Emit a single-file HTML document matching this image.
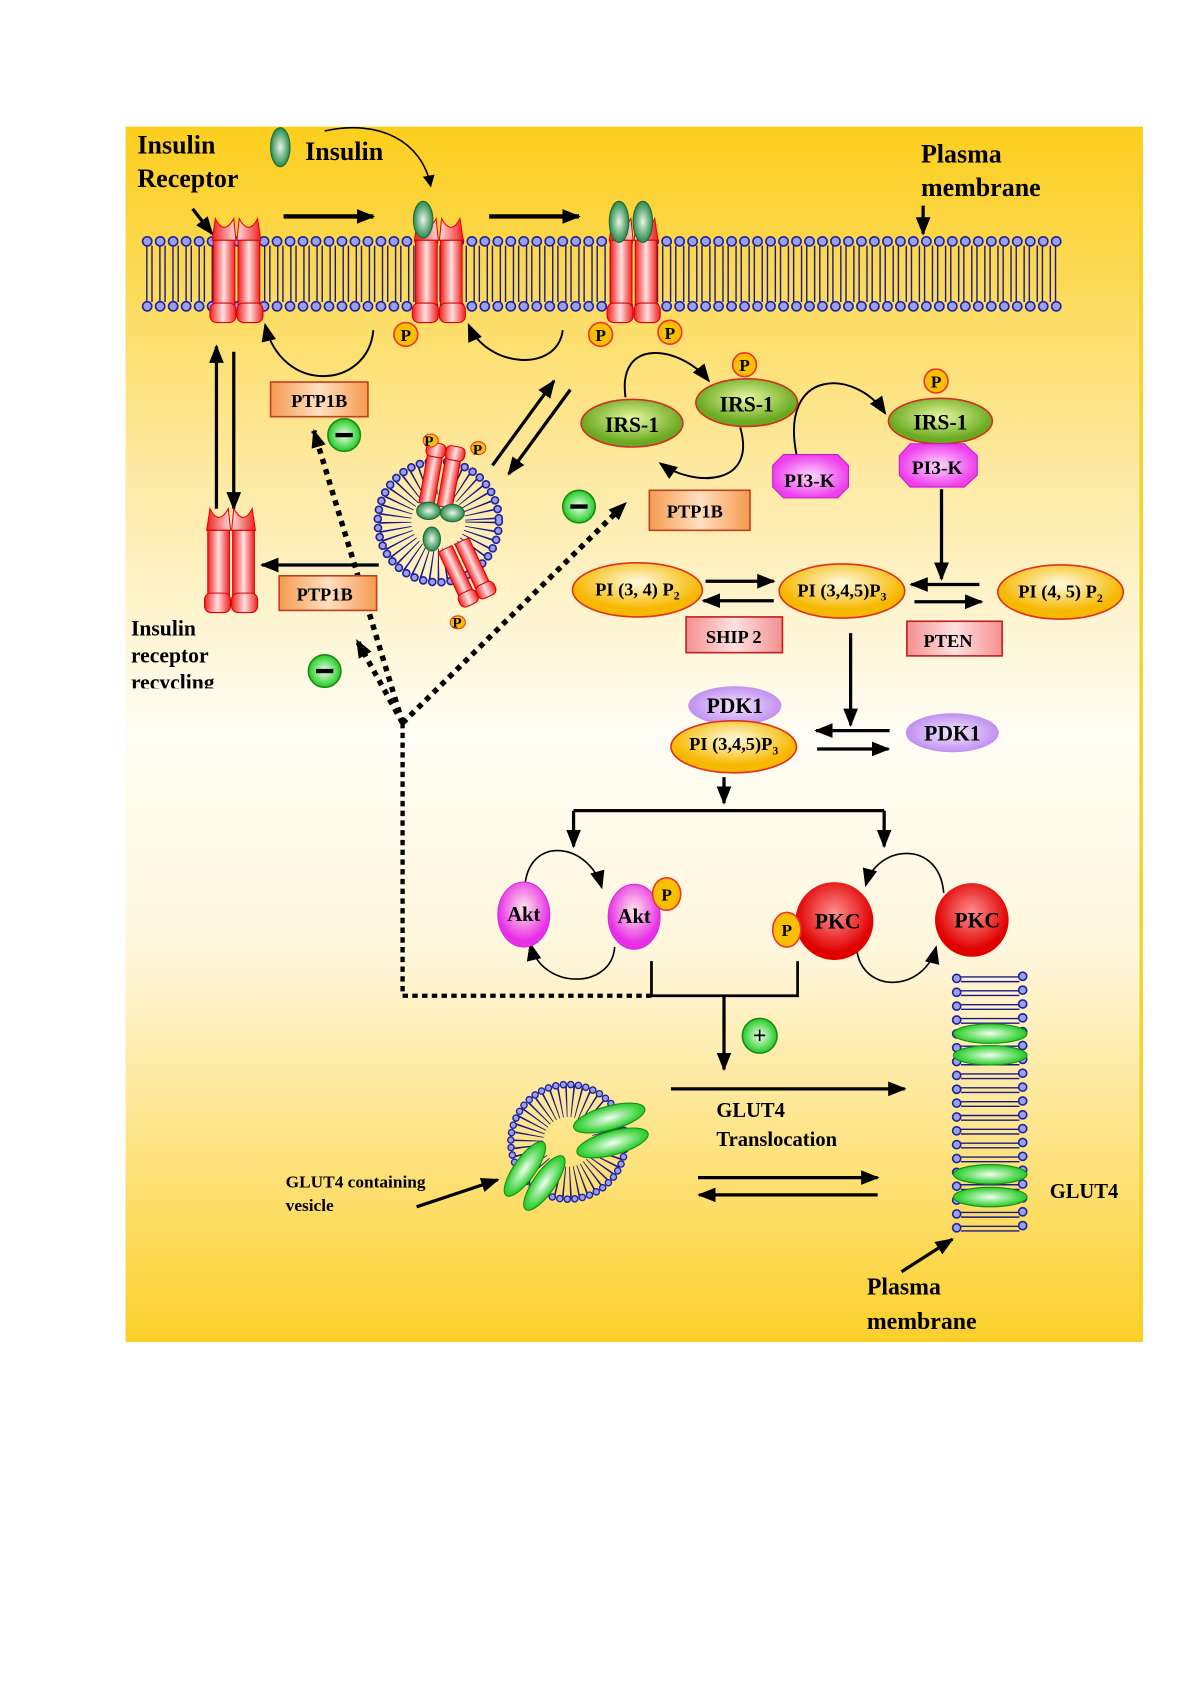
<!DOCTYPE html>
<html><head><meta charset="utf-8"><style>
html,body{margin:0;padding:0;background:#fff;}
svg{display:block;}
text{font-family:"Liberation Serif",serif;font-weight:bold;fill:#000;}
</style></head><body>
<svg width="1198" height="1696" viewBox="0 0 1107 1567" preserveAspectRatio="none" xmlns="http://www.w3.org/2000/svg">
<defs>
<linearGradient id="bg" x1="0" y1="0" x2="0" y2="1">
<stop offset="0" stop-color="#fcce1c"/><stop offset="0.28" stop-color="#fde9a0"/><stop offset="0.5" stop-color="#fffdf5"/><stop offset="0.68" stop-color="#fff6dc"/><stop offset="1" stop-color="#fcd02a"/></linearGradient>
<linearGradient id="red" x1="0" y1="0" x2="1" y2="0"><stop offset="0" stop-color="#f02020"/><stop offset="0.5" stop-color="#ffe0e0"/><stop offset="1" stop-color="#f02020"/></linearGradient>
<radialGradient id="grn"><stop offset="0" stop-color="#e8f5e8"/><stop offset="1" stop-color="#2a8a4a"/></radialGradient>
<radialGradient id="lgrn"><stop offset="0" stop-color="#f0fff0"/><stop offset="1" stop-color="#22cc22"/></radialGradient>
<radialGradient id="irs" cx="0.5" cy="0.4"><stop offset="0" stop-color="#e8f8a0"/><stop offset="1" stop-color="#6aaa20"/></radialGradient>
<radialGradient id="pi" cx="0.5" cy="0.35"><stop offset="0" stop-color="#fffbe0"/><stop offset="1" stop-color="#f6b800"/></radialGradient>
<radialGradient id="pur"><stop offset="0" stop-color="#f4e8ff"/><stop offset="1" stop-color="#c090f0"/></radialGradient>
<radialGradient id="mag"><stop offset="0" stop-color="#ffd8ff"/><stop offset="1" stop-color="#ee40ee"/></radialGradient>
<radialGradient id="pkc" cx="0.5" cy="0.4"><stop offset="0" stop-color="#ff9090"/><stop offset="1" stop-color="#e00000"/></radialGradient>
<radialGradient id="pk" cx="0.5" cy="0.4"><stop offset="0" stop-color="#ffe9e9"/><stop offset="1" stop-color="#e82ee8"/></radialGradient>
<linearGradient id="org" x1="0" y1="0" x2="1" y2="0"><stop offset="0" stop-color="#f59a50"/><stop offset="0.5" stop-color="#ffe0c0"/><stop offset="1" stop-color="#f59a50"/></linearGradient>
<linearGradient id="pnk" x1="0" y1="0" x2="1" y2="0"><stop offset="0" stop-color="#f49090"/><stop offset="0.5" stop-color="#ffe0e0"/><stop offset="1" stop-color="#f49090"/></linearGradient>
<marker id="ah" viewBox="0 0 10 10" refX="9" refY="5" markerWidth="11" markerHeight="11" markerUnits="userSpaceOnUse" orient="auto"><path d="M0,0L10,5L0,10z" fill="#000"/></marker>
<marker id="ahs" viewBox="0 0 10 10" refX="9" refY="5" markerWidth="17" markerHeight="17" markerUnits="userSpaceOnUse" orient="auto"><path d="M0,1L10,5L0,9z" fill="#000"/></marker>
<g id="rec">
<path d="M0,0 L3,-20 Q11,-4 20,-20 L22,0 Z M23,0 L25,-20 Q34,-4 42,-20 L45,0Z" fill="url(#red)" stroke="#e00" stroke-width="1"/>
<rect x="1" y="0" width="20" height="60" fill="url(#red)" stroke="#d00"/>
<rect x="24" y="0" width="20" height="60" fill="url(#red)" stroke="#d00"/>
<rect x="-2" y="58" width="24" height="18" rx="6" fill="url(#red)" stroke="#d00"/>
<rect x="23" y="58" width="24" height="18" rx="6" fill="url(#red)" stroke="#d00"/>
</g>
<g id="P"><circle r="11" fill="#f8c000" stroke="#e33" stroke-width="1.5"/><text y="6" text-anchor="middle" font-size="16">P</text></g>
<g id="minus"><circle r="15" fill="url(#lgrn)" stroke="#1a8a1a" stroke-width="1.5"/><rect x="-8" y="-2" width="16" height="4" fill="#000"/></g>
</defs>
<rect x="116" y="117" width="940" height="1123" fill="url(#bg)"/>
<rect x="1053" y="117" width="3" height="1123" fill="#f8d020"/>
<line x1="135" y1="253" x2="982" y2="253" stroke="#1a1a8a" stroke-width="52" stroke-dasharray="1.3 3.5 1.3 6"/>
<line x1="136" y1="223" x2="982" y2="223" stroke="#222299" stroke-width="10" stroke-linecap="round" stroke-dasharray="0 12"/>
<line x1="136" y1="223" x2="982" y2="223" stroke="#9aa0f0" stroke-width="7" stroke-linecap="round" stroke-dasharray="0 12"/>
<line x1="136" y1="283" x2="982" y2="283" stroke="#222299" stroke-width="10" stroke-linecap="round" stroke-dasharray="0 12"/>
<line x1="136" y1="283" x2="982" y2="283" stroke="#9aa0f0" stroke-width="7" stroke-linecap="round" stroke-dasharray="0 12"/>
<use href="#rec" x="196" y="222"/>
<use href="#rec" x="383" y="222"/>
<use href="#rec" x="563" y="222"/>
<ellipse cx="391" cy="203" rx="9" ry="17" fill="url(#grn)" stroke="#1a6a3a"/>
<ellipse cx="572" cy="205" rx="9" ry="19" fill="url(#grn)" stroke="#1a6a3a"/>
<ellipse cx="594" cy="205" rx="9" ry="19" fill="url(#grn)" stroke="#1a6a3a"/>
<use href="#P" x="375" y="309"/><use href="#P" x="555" y="309"/><use href="#P" x="619" y="307"/>
<text x="127" y="142" font-size="24">Insulin</text>
<text x="127" y="173" font-size="24">Receptor</text>
<ellipse cx="259" cy="136" rx="9" ry="18" fill="url(#grn)" stroke="#1a6a3a"/>
<text x="282" y="148" font-size="24">Insulin</text>
<text x="851" y="150" font-size="24">Plasma</text>
<text x="851" y="181" font-size="24">membrane</text>
<g stroke="#000" fill="none">
<path d="M300,121 C350,110 390,130 398,172" stroke-width="1.5" marker-end="url(#ah)"/>
<line x1="262" y1="200" x2="345" y2="200" stroke-width="4" marker-end="url(#ahs)" />
<line x1="452" y1="200" x2="535" y2="200" stroke-width="4" marker-end="url(#ahs)"/>
<line x1="853" y1="190" x2="853" y2="216" stroke-width="3" marker-end="url(#ahs)"/>
<line x1="178" y1="193" x2="196" y2="216" stroke-width="3" marker-end="url(#ahs)"/>
<path d="M345,305 C340,360 260,365 245,300" stroke-width="1.8" marker-end="url(#ahs)"/>
<path d="M520,305 C515,345 450,340 433,300" stroke-width="1.8" marker-end="url(#ahs)"/>
<line x1="200" y1="470" x2="200" y2="320" stroke-width="3" marker-end="url(#ahs)"/>
<line x1="216" y1="325" x2="216" y2="470" stroke-width="3" marker-end="url(#ahs)"/>
<line x1="350" y1="522" x2="242" y2="522" stroke-width="3" marker-end="url(#ahs)"/>
<line x1="455" y1="430" x2="512" y2="352" stroke-width="3" marker-end="url(#ahs)"/>
<line x1="527" y1="360" x2="470" y2="438" stroke-width="3" marker-end="url(#ahs)"/>
<path d="M372,668 L290,398" stroke-width="5" stroke-dasharray="5 5" marker-end="url(#ahs)"/>
<path d="M372,668 L330,592" stroke-width="5" stroke-dasharray="5 5" marker-end="url(#ahs)"/>
<path d="M372,668 L578,465" stroke-width="5" stroke-dasharray="5 5" marker-end="url(#ahs)"/>
<path d="M372,668 L372,920 L602,920" stroke-width="4" stroke-dasharray="5 4"/>
</g>
<rect x="250" y="353" width="90" height="32" fill="url(#org)" stroke="#c04020" stroke-width="1.5"/>
<text x="295" y="376" font-size="17" text-anchor="middle">PTP1B</text>
<rect x="258" y="532" width="90" height="32" fill="url(#org)" stroke="#c04020" stroke-width="1.5"/>
<text x="300" y="555" font-size="17" text-anchor="middle">PTP1B</text>
<rect x="600" y="453" width="93" height="37" fill="url(#org)" stroke="#c04020" stroke-width="1.5"/>
<text x="642" y="478" font-size="17" text-anchor="middle">PTP1B</text>
<use href="#minus" x="318" y="402"/><use href="#minus" x="300" y="620"/><use href="#minus" x="535" y="468"/>
<use href="#rec" x="191" y="490"/>
<text x="121" y="587" font-size="20">Insulin</text>
<text x="121" y="612" font-size="20">receptor</text>
<svg x="116" y="620" width="200" height="16" viewBox="116 620 200 16" overflow="hidden"><text x="121" y="637" font-size="20">recycling</text></svg>
<circle cx="405" cy="482" r="40" fill="none" stroke="#1a1a8a" stroke-width="30" stroke-dasharray="1.2 5"/>
<circle cx="405" cy="482" r="56" fill="none" stroke="#222299" stroke-width="8" stroke-linecap="round" stroke-dasharray="0 8.5"/>
<circle cx="405" cy="482" r="56" fill="none" stroke="#9aa0f0" stroke-width="5" stroke-linecap="round" stroke-dasharray="0 8.5"/>
<g transform="translate(395,420) rotate(10)"><rect x="0" y="0" width="14" height="45" fill="url(#red)" stroke="#d00"/><rect x="17" y="0" width="14" height="45" fill="url(#red)" stroke="#d00"/><rect x="-2" y="-12" width="18" height="13" rx="5" fill="url(#red)" stroke="#d00"/><rect x="16" y="-12" width="18" height="13" rx="5" fill="url(#red)" stroke="#d00"/></g>
<g transform="translate(405,510) rotate(-25)"><rect x="0" y="0" width="14" height="45" fill="url(#red)" stroke="#d00"/><rect x="17" y="0" width="14" height="45" fill="url(#red)" stroke="#d00"/><rect x="-2" y="44" width="18" height="13" rx="5" fill="url(#red)" stroke="#d00"/><rect x="16" y="44" width="18" height="13" rx="5" fill="url(#red)" stroke="#d00"/></g>
<ellipse cx="396" cy="472" rx="11" ry="8" fill="url(#grn)" stroke="#1a6a3a"/>
<ellipse cx="418" cy="474" rx="11" ry="8" fill="url(#grn)" stroke="#1a6a3a"/>
<ellipse cx="399" cy="498" rx="8" ry="11" fill="url(#grn)" stroke="#1a6a3a"/>
<g fill="#f8c000" stroke="#e33"><ellipse cx="398" cy="407" rx="7" ry="6"/><ellipse cx="442" cy="414" rx="7" ry="6"/><ellipse cx="423" cy="575" rx="7" ry="6"/></g>
<text x="392" y="412" font-size="14">P</text><text x="437" y="420" font-size="14">P</text><text x="418" y="580" font-size="14">P</text>
<g stroke="#000" fill="none" stroke-width="1.8">
<path d="M578,367 C570,310 630,320 655,352" marker-end="url(#ahs)"/>
<path d="M684,395 C700,450 640,450 610,428" marker-end="url(#ahs)"/>
<path d="M736,420 C720,340 790,340 818,382" marker-end="url(#ahs)"/>
</g>
<ellipse cx="584" cy="391" rx="47" ry="22" fill="url(#irs)" stroke="#d03020" stroke-width="1.5"/>
<text x="584" y="399" font-size="20" text-anchor="middle">IRS-1</text>
<ellipse cx="690" cy="372" rx="47" ry="22" fill="url(#irs)" stroke="#d03020" stroke-width="1.5"/>
<text x="690" y="380" font-size="20" text-anchor="middle">IRS-1</text>
<use href="#P" x="688" y="337"/>
<ellipse cx="869" cy="389" rx="48" ry="21" fill="url(#irs)" stroke="#d03020" stroke-width="1.5"/>
<text x="869" y="397" font-size="20" text-anchor="middle">IRS-1</text>
<use href="#P" x="865" y="352"/>
<path d="M724,420 L774,420 L784,430 L784,450 L774,460 L724,460 L714,450 L714,430Z" fill="url(#mag)" stroke="#c020c0"/>
<text x="748" y="450" font-size="18" text-anchor="middle">PI3-K</text>
<path d="M841,410 L891,410 L903,421 L903,439 L891,450 L841,450 L831,439 L831,421Z" fill="url(#mag)" stroke="#c020c0"/>
<text x="866" y="438" font-size="18" text-anchor="middle">PI3-K</text>
<g stroke="#000" fill="none" stroke-width="3">
<line x1="870" y1="452" x2="870" y2="535" marker-end="url(#ahs)"/>
<line x1="652" y1="537" x2="715" y2="537" marker-end="url(#ahs)"/>
<line x1="715" y1="555" x2="650" y2="555" marker-end="url(#ahs)"/>
<line x1="905" y1="540" x2="842" y2="540" marker-end="url(#ahs)"/>
<line x1="845" y1="556" x2="907" y2="556" marker-end="url(#ahs)"/>
<line x1="786" y1="585" x2="786" y2="670" marker-end="url(#ahs)"/>
<line x1="822" y1="675" x2="754" y2="675" marker-end="url(#ahs)"/>
<line x1="755" y1="692" x2="821" y2="692" marker-end="url(#ahs)"/>
<line x1="669" y1="718" x2="669" y2="742" marker-end="url(#ahs)"/>
<path d="M530,749 L817,749"/>
<line x1="530" y1="749" x2="530" y2="782" marker-end="url(#ahs)"/>
<line x1="817" y1="749" x2="817" y2="782" marker-end="url(#ahs)"/>
<path d="M602,888 L602,920 L737,920 L737,888" stroke-width="2.5"/>
<line x1="669" y1="920" x2="669" y2="988" marker-end="url(#ahs)"/>
<line x1="620" y1="1006" x2="836" y2="1006" marker-end="url(#ahs)"/>
<line x1="645" y1="1088" x2="811" y2="1088" marker-end="url(#ahs)"/>
<line x1="811" y1="1104" x2="646" y2="1104" marker-end="url(#ahs)"/>
<line x1="385" y1="1115" x2="460" y2="1090" marker-end="url(#ahs)"/>
<line x1="833" y1="1175" x2="880" y2="1145" marker-end="url(#ahs)"/>
</g>
<ellipse cx="589" cy="545" rx="60" ry="25" fill="url(#pi)" stroke="#e03020" stroke-width="1.5"/>
<text x="589" y="550" font-size="17" text-anchor="middle">PI (3, 4) P<tspan font-size="11" dy="4">2</tspan></text>
<ellipse cx="778" cy="546" rx="58" ry="25" fill="url(#pi)" stroke="#e03020" stroke-width="1.5"/>
<text x="778" y="551" font-size="17" text-anchor="middle">PI (3,4,5)P<tspan font-size="11" dy="4">3</tspan></text>
<ellipse cx="980" cy="547" rx="58" ry="25" fill="url(#pi)" stroke="#e03020" stroke-width="1.5"/>
<text x="980" y="552" font-size="17" text-anchor="middle">PI (4, 5) P<tspan font-size="11" dy="4">2</tspan></text>
<rect x="634" y="570" width="89" height="33" fill="url(#pnk)" stroke="#c02020" stroke-width="1.5"/>
<text x="678" y="594" font-size="17" text-anchor="middle">SHIP 2</text>
<rect x="838" y="574" width="88" height="32" fill="url(#pnk)" stroke="#c02020" stroke-width="1.5"/>
<text x="876" y="598" font-size="17" text-anchor="middle">PTEN</text>
<ellipse cx="679" cy="652" rx="43" ry="18" fill="url(#pur)"/>
<text x="679" y="659" font-size="20" text-anchor="middle">PDK1</text>
<ellipse cx="678" cy="690" rx="58" ry="24" fill="url(#pi)" stroke="#e03020" stroke-width="1.5"/>
<text x="678" y="693" font-size="17" text-anchor="middle">PI (3,4,5)P<tspan font-size="11" dy="4">3</tspan></text>
<ellipse cx="880" cy="677" rx="43" ry="18" fill="url(#pur)"/>
<text x="880" y="684" font-size="20" text-anchor="middle">PDK1</text>
<g stroke="#000" fill="none" stroke-width="1.5">
<path d="M485,818 C490,770 545,780 556,820" marker-end="url(#ahs)"/>
<path d="M568,875 C565,915 500,915 490,872" marker-end="url(#ahs)"/>
<path d="M872,825 C868,775 810,780 800,818" marker-end="url(#ahs)"/>
<path d="M792,880 C800,920 855,915 865,875" marker-end="url(#ahs)"/>
</g>
<ellipse cx="484" cy="845" rx="24" ry="30" fill="url(#pk)" stroke="#d030d0"/>
<text x="484" y="851" font-size="19" text-anchor="middle">Akt</text>
<ellipse cx="586" cy="847" rx="24" ry="30" fill="url(#pk)" stroke="#d030d0"/>
<text x="586" y="853" font-size="19" text-anchor="middle">Akt</text>
<ellipse cx="616" cy="826" rx="13" ry="15" fill="#f8c000" stroke="#e33" stroke-width="1.5"/><text x="616" y="832" font-size="16" text-anchor="middle">P</text>
<circle cx="771" cy="851" r="36" fill="url(#pkc)"/>
<text x="774" y="858" font-size="20" text-anchor="middle">PKC</text>
<ellipse cx="727" cy="859" rx="13" ry="16" fill="#f8c000" stroke="#e33" stroke-width="1.5"/><text x="727" y="865" font-size="16" text-anchor="middle">P</text>
<circle cx="898" cy="850" r="34" fill="url(#pkc)"/>
<text x="903" y="857" font-size="20" text-anchor="middle">PKC</text>
<circle cx="702" cy="957" r="16" fill="url(#lgrn)" stroke="#1a8a1a" stroke-width="1.5"/>
<text x="702" y="964" font-size="22" text-anchor="middle">+</text>
<text x="662" y="1032" font-size="19">GLUT4</text>
<text x="662" y="1059" font-size="19">Translocation</text>
<text x="264" y="1097" font-size="16">GLUT4 containing</text>
<text x="264" y="1119" font-size="16">vesicle</text>
<text x="970" y="1107" font-size="19">GLUT4</text>
<text x="801" y="1196" font-size="22">Plasma</text>
<text x="801" y="1228" font-size="22">membrane</text>
<circle cx="525" cy="1055" r="38" fill="none" stroke="#1a1a8a" stroke-width="30" stroke-dasharray="1.2 4.5"/>
<circle cx="525" cy="1055" r="53" fill="none" stroke="#222299" stroke-width="7" stroke-linecap="round" stroke-dasharray="0 7"/>
<circle cx="525" cy="1055" r="53" fill="none" stroke="#9aa0f0" stroke-width="4.5" stroke-linecap="round" stroke-dasharray="0 7"/>
<ellipse cx="563" cy="1033" rx="34" ry="11" transform="rotate(-15 563 1033)" fill="url(#lgrn)" stroke="#1a8a1a"/>
<ellipse cx="566" cy="1056" rx="34" ry="11" transform="rotate(-15 566 1056)" fill="url(#lgrn)" stroke="#1a8a1a"/>
<ellipse cx="485" cy="1080" rx="10" ry="30" transform="rotate(35 485 1080)" fill="url(#lgrn)" stroke="#1a8a1a"/>
<ellipse cx="503" cy="1093" rx="10" ry="30" transform="rotate(35 503 1093)" fill="url(#lgrn)" stroke="#1a8a1a"/>
<line x1="915" y1="902" x2="915" y2="1142" stroke="#1a1a8a" stroke-width="54" stroke-dasharray="1.3 3 1.3 7.2"/>
<line x1="884" y1="904" x2="884" y2="1142" stroke="#222299" stroke-width="9" stroke-linecap="round" stroke-dasharray="0 12.8"/>
<line x1="884" y1="904" x2="884" y2="1142" stroke="#9aa0f0" stroke-width="6" stroke-linecap="round" stroke-dasharray="0 12.8"/>
<line x1="945" y1="902" x2="945" y2="1142" stroke="#222299" stroke-width="9" stroke-linecap="round" stroke-dasharray="0 12.8"/>
<line x1="945" y1="902" x2="945" y2="1142" stroke="#9aa0f0" stroke-width="6" stroke-linecap="round" stroke-dasharray="0 12.8"/>
<ellipse cx="915" cy="955" rx="34" ry="9" fill="url(#lgrn)" stroke="#1a8a1a"/>
<ellipse cx="915" cy="975" rx="34" ry="9" fill="url(#lgrn)" stroke="#1a8a1a"/>
<ellipse cx="915" cy="1085" rx="34" ry="9" fill="url(#lgrn)" stroke="#1a8a1a"/>
<ellipse cx="915" cy="1106" rx="34" ry="9" fill="url(#lgrn)" stroke="#1a8a1a"/>
</svg>
</body></html>
